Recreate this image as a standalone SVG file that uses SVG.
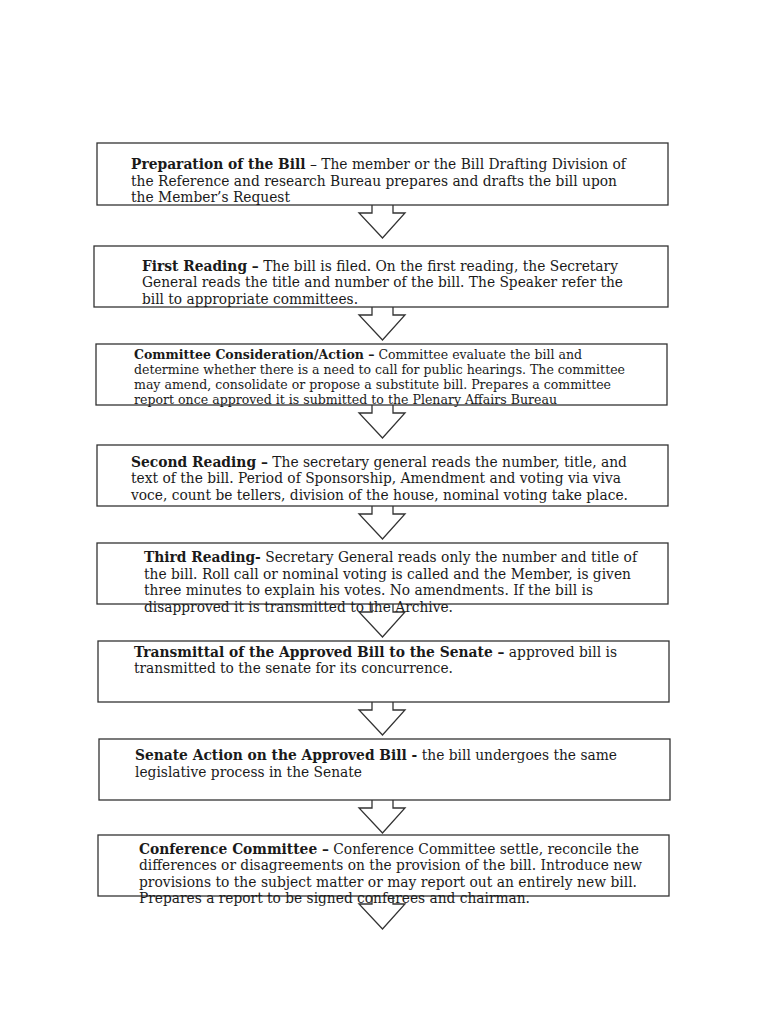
<svg xmlns="http://www.w3.org/2000/svg" width="768" height="1024" viewBox="0 0 768 1024">
<style>
.box{fill:#fff;stroke:#333;stroke-width:1.3}
.t{font-family:"DejaVu Serif","Liberation Serif",serif;font-size:14px;fill:#1a1a1a}
.s{font-size:12.5px}
.b{font-weight:bold}
.arr{fill:none;stroke:#333;stroke-width:1.3;stroke-linejoin:miter}
</style>
<rect width="768" height="1024" fill="#fff"/>
<g id="n1">
<rect class="box" x="97" y="143" width="571" height="62"/>
<text class="t" x="131" y="169" textLength="495" lengthAdjust="spacingAndGlyphs"><tspan class="b">Preparation of the Bill</tspan> – The member or the Bill Drafting Division of</text>
<text class="t" x="131" y="186" textLength="486" lengthAdjust="spacingAndGlyphs">the Reference and research Bureau prepares and drafts the bill upon</text>
<text class="t" x="131" y="202" textLength="159" lengthAdjust="spacingAndGlyphs">the Member’s Request</text>
</g>
<g id="n2">
<rect class="box" x="94" y="246" width="574" height="61"/>
<text class="t" x="142" y="271" textLength="476" lengthAdjust="spacingAndGlyphs"><tspan class="b">First Reading –</tspan> The bill is filed. On the first reading, the Secretary</text>
<text class="t" x="142" y="287" textLength="481" lengthAdjust="spacingAndGlyphs">General reads the title and number of the bill. The Speaker refer the</text>
<text class="t" x="142" y="304" textLength="216" lengthAdjust="spacingAndGlyphs">bill to appropriate committees.</text>
</g>
<g id="n3">
<rect class="box" x="96" y="344" width="571" height="61"/>
<text class="t s" x="134" y="359" textLength="448" lengthAdjust="spacingAndGlyphs"><tspan class="b">Committee Consideration/Action –</tspan> Committee evaluate the bill and</text>
<text class="t s" x="134" y="374" textLength="491" lengthAdjust="spacingAndGlyphs">determine whether there is a need to call for public hearings. The committee</text>
<text class="t s" x="134" y="389" textLength="477" lengthAdjust="spacingAndGlyphs">may amend, consolidate or propose a substitute bill. Prepares a committee</text>
<text class="t s" x="134" y="404" textLength="423" lengthAdjust="spacingAndGlyphs">report once approved it is submitted to the Plenary Affairs Bureau</text>
</g>
<g id="n4">
<rect class="box" x="97" y="445" width="571" height="61"/>
<text class="t" x="131" y="467" textLength="496" lengthAdjust="spacingAndGlyphs"><tspan class="b">Second Reading –</tspan> The secretary general reads the number, title, and</text>
<text class="t" x="131" y="483" textLength="490" lengthAdjust="spacingAndGlyphs">text of the bill. Period of Sponsorship, Amendment and voting via viva</text>
<text class="t" x="131" y="500" textLength="497" lengthAdjust="spacingAndGlyphs">voce, count be tellers, division of the house, nominal voting take place.</text>
</g>
<g id="n5">
<rect class="box" x="97" y="543" width="571" height="61"/>
<text class="t" x="144" y="562" textLength="493" lengthAdjust="spacingAndGlyphs"><tspan class="b">Third Reading-</tspan> Secretary General reads only the number and title of</text>
<text class="t" x="144" y="579" textLength="487" lengthAdjust="spacingAndGlyphs">the bill. Roll call or nominal voting is called and the Member, is given</text>
<text class="t" x="144" y="595" textLength="449" lengthAdjust="spacingAndGlyphs">three minutes to explain his votes. No amendments. If the bill is</text>
<text class="t" x="144" y="612" textLength="309" lengthAdjust="spacingAndGlyphs">disapproved it is transmitted to the Archive.</text>
</g>
<g id="n6">
<rect class="box" x="98" y="641" width="571" height="61"/>
<text class="t" x="134" y="657" textLength="483" lengthAdjust="spacingAndGlyphs"><tspan class="b">Transmittal of the Approved Bill to the Senate –</tspan> approved bill is</text>
<text class="t" x="134" y="673" textLength="319" lengthAdjust="spacingAndGlyphs">transmitted to the senate for its concurrence.</text>
</g>
<g id="n7">
<rect class="box" x="99" y="739" width="571" height="61"/>
<text class="t" x="135" y="760" textLength="482" lengthAdjust="spacingAndGlyphs"><tspan class="b">Senate Action on the Approved Bill -</tspan> the bill undergoes the same</text>
<text class="t" x="135" y="777" textLength="227" lengthAdjust="spacingAndGlyphs">legislative process in the Senate</text>
</g>
<g id="n8">
<rect class="box" x="98" y="835" width="571" height="61"/>
<text class="t" x="139" y="854" textLength="500" lengthAdjust="spacingAndGlyphs"><tspan class="b">Conference Committee –</tspan> Conference Committee settle, reconcile the</text>
<text class="t" x="139" y="870" textLength="503" lengthAdjust="spacingAndGlyphs">differences or disagreements on the provision of the bill. Introduce new</text>
<text class="t" x="139" y="887" textLength="498" lengthAdjust="spacingAndGlyphs">provisions to the subject matter or may report out an entirely new bill.</text>
<text class="t" x="139" y="903" textLength="391" lengthAdjust="spacingAndGlyphs">Prepares a report to be signed conferees and chairman.</text>
</g>
<g id="connectors">
<path class="arr" d="M372,205 V213 H359 L382.5,238 L405,213 H393 V205"/>
<path class="arr" d="M372,307 V315 H359 L382.5,340 L405,315 H393 V307"/>
<path class="arr" d="M372,405 V413 H359 L382.5,438 L405,413 H393 V405"/>
<path class="arr" d="M372,506 V514 H359 L382.5,539 L405,514 H393 V506"/>
<path class="arr" d="M372,604 V612 H359 L382.5,637 L405,612 H393 V604"/>
<path class="arr" d="M372,702 V710 H359 L382.5,735 L405,710 H393 V702"/>
<path class="arr" d="M372,800 V808 H359 L382.5,833 L405,808 H393 V800"/>
<path class="arr" d="M372,896 V904 H359 L382.5,929 L405,904 H393 V896"/>
</g>
</svg>
